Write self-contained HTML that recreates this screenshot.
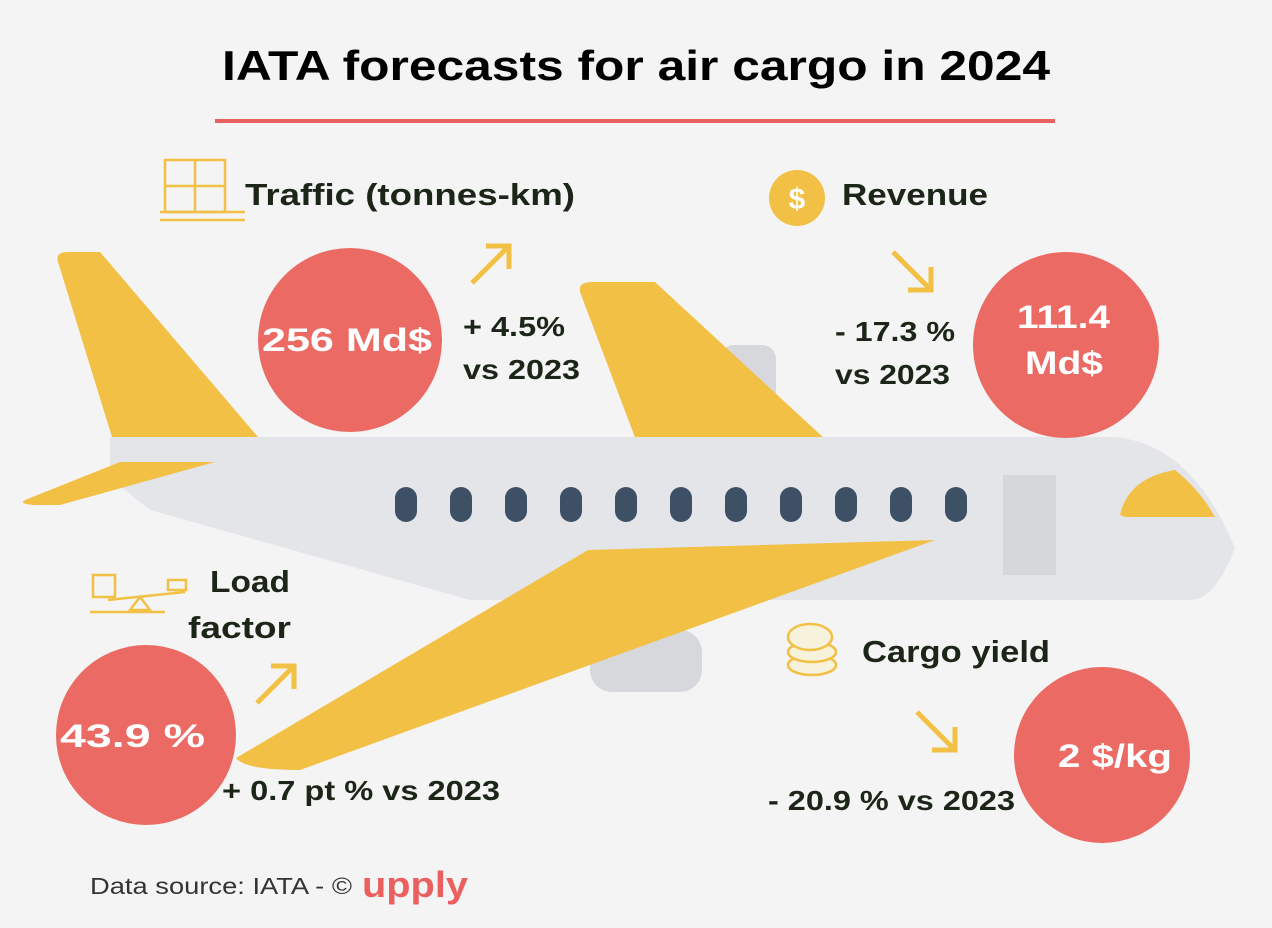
<!DOCTYPE html>
<html><head><meta charset="utf-8"><style>
html,body{margin:0;padding:0;background:#f4f4f4;}
svg{display:block;}
text{font-family:"Liberation Sans",sans-serif;}
</style></head><body>
<svg width="1272" height="928" viewBox="0 0 1272 928">
<rect width="1272" height="928" fill="#f4f4f4"/>
<text x="222" y="80" font-size="42" font-weight="bold" fill="#000" textLength="828" lengthAdjust="spacingAndGlyphs">IATA forecasts for air cargo in 2024</text>
<rect x="215" y="119" width="840" height="4" fill="#ec5f5f"/>

<g>
<rect x="720" y="345" width="56" height="100" rx="14" fill="#d6d8dc"/>
<path d="M58,262 Q55,252 68,252 L100,252 L258,437 L112,437 Z" fill="#f2c045"/>
<path d="M580,292 Q578,282 592,282 L655,282 L826,440 L636,440 Z" fill="#f2c045"/>
<path d="M110,437 L1110,437 Q1190,440 1235,548 Q1215,600 1190,600 L470,600 L150,510 L110,478 Z" fill="#e3e5e9"/>
<rect x="590" y="630" width="112" height="62" rx="22" fill="#d6d8dc"/>
<path d="M25,500 Q18,504 35,505 L60,505 L215,462 L120,462 Z" fill="#f2c045"/>
<path d="M588,550 L935,540 L300,770 Q245,770 236,758 Z" fill="#f2c045"/>
<rect x="1003" y="475" width="53" height="100" fill="#d5d7db"/>
<path d="M1120,515 Q1128,478 1175,470 Q1200,490 1215,517 L1125,517 Z" fill="#f2c045"/>
<g fill="#3e5066">
<rect x="395" y="487" width="22" height="35" rx="11"/><rect x="450" y="487" width="22" height="35" rx="11"/><rect x="505" y="487" width="22" height="35" rx="11"/><rect x="560" y="487" width="22" height="35" rx="11"/><rect x="615" y="487" width="22" height="35" rx="11"/><rect x="670" y="487" width="22" height="35" rx="11"/><rect x="725" y="487" width="22" height="35" rx="11"/><rect x="780" y="487" width="22" height="35" rx="11"/><rect x="835" y="487" width="22" height="35" rx="11"/><rect x="890" y="487" width="22" height="35" rx="11"/><rect x="945" y="487" width="22" height="35" rx="11"/>
</g>
</g>

<g>
<g fill="none" stroke="#f2c045" stroke-width="2.5">
<rect x="165" y="160" width="60" height="52"/><line x1="165" y1="186" x2="225" y2="186"/><line x1="195" y1="160" x2="195" y2="212"/><line x1="160" y1="220" x2="245" y2="220"/><line x1="160" y1="212" x2="245" y2="212"/>
</g>
<text x="245" y="205" font-size="31" font-weight="bold" fill="#1c2618" textLength="330" lengthAdjust="spacingAndGlyphs">Traffic (tonnes-km)</text>
<circle cx="350" cy="340" r="92" fill="#ec6a64"/>
<text x="262" y="351" font-size="32" font-weight="bold" fill="#fff" textLength="170" lengthAdjust="spacingAndGlyphs">256 Md$</text>
<path d="M472,283 L508,247 M486,246 L509,246 L509,269" stroke="#f2c045" stroke-width="5" fill="none"/>
<text x="463" y="336" font-size="28" font-weight="bold" fill="#1c2618" textLength="102" lengthAdjust="spacingAndGlyphs">+ 4.5%</text>
<text x="463" y="379" font-size="28" font-weight="bold" fill="#1c2618" textLength="117" lengthAdjust="spacingAndGlyphs">vs 2023</text>
</g>

<g>
<circle cx="797" cy="198" r="28" fill="#f2c045"/>
<text x="797" y="209" text-anchor="middle" font-size="30" font-weight="bold" fill="#fff">$</text>
<text x="842" y="205" font-size="31" font-weight="bold" fill="#1c2618" textLength="146" lengthAdjust="spacingAndGlyphs">Revenue</text>
<path d="M893,252 L931,290 M931,267 L931,290 L908,290" stroke="#f2c045" stroke-width="5" fill="none"/>
<text x="835" y="341" font-size="28" font-weight="bold" fill="#1c2618" textLength="120" lengthAdjust="spacingAndGlyphs">- 17.3 %</text>
<text x="835" y="384" font-size="28" font-weight="bold" fill="#1c2618" textLength="115" lengthAdjust="spacingAndGlyphs">vs 2023</text>
<circle cx="1066" cy="345" r="93" fill="#ec6a64"/>
<text x="1017" y="328" font-size="32" font-weight="bold" fill="#fff" textLength="93" lengthAdjust="spacingAndGlyphs">111.4</text>
<text x="1025" y="374" font-size="32" font-weight="bold" fill="#fff" textLength="78" lengthAdjust="spacingAndGlyphs">Md$</text>
</g>

<g>
<g fill="none" stroke="#f2c045" stroke-width="2.5">
<rect x="93" y="575" width="22" height="22"/><rect x="168" y="580" width="18" height="10"/><line x1="108" y1="600" x2="185" y2="592"/><path d="M140,597 L130,610 L150,610 Z"/><line x1="90" y1="612" x2="165" y2="612"/>
</g>
<text x="210" y="592" font-size="31" font-weight="bold" fill="#1c2618" textLength="80" lengthAdjust="spacingAndGlyphs">Load</text>
<text x="188" y="638" font-size="31" font-weight="bold" fill="#1c2618" textLength="103" lengthAdjust="spacingAndGlyphs">factor</text>
<path d="M257,703 L293,667 M271,666 L294,666 L294,689" stroke="#f2c045" stroke-width="5" fill="none"/>
<circle cx="146" cy="735" r="90" fill="#ec6a64"/>
<text x="60" y="747" font-size="32" font-weight="bold" fill="#fff" textLength="145" lengthAdjust="spacingAndGlyphs">43.9 %</text>
<text x="222" y="800" font-size="28" font-weight="bold" fill="#1c2618" textLength="278" lengthAdjust="spacingAndGlyphs">+ 0.7 pt % vs 2023</text>
</g>

<g>
<g fill="#f7f2dc" stroke="#f2c045" stroke-width="2.5">
<ellipse cx="812" cy="665" rx="24" ry="10"/><ellipse cx="812" cy="652" rx="24" ry="10"/><ellipse cx="810" cy="637" rx="22" ry="13"/>
</g>
<text x="862" y="662" font-size="31" font-weight="bold" fill="#1c2618" textLength="188" lengthAdjust="spacingAndGlyphs">Cargo yield</text>
<path d="M917,712 L955,750 M955,727 L955,750 L932,750" stroke="#f2c045" stroke-width="5" fill="none"/>
<text x="768" y="810" font-size="28" font-weight="bold" fill="#1c2618" textLength="247" lengthAdjust="spacingAndGlyphs">- 20.9 % vs 2023</text>
<circle cx="1102" cy="755" r="88" fill="#ec6a64"/>
<text x="1058" y="767" font-size="32" font-weight="bold" fill="#fff" textLength="114" lengthAdjust="spacingAndGlyphs">2 $/kg</text>
</g>

<text x="90" y="894" font-size="23" fill="#333" textLength="262" lengthAdjust="spacingAndGlyphs">Data source: IATA - ©</text>
<text x="362" y="897" font-size="36" font-weight="bold" fill="#ec5f5f" textLength="106" lengthAdjust="spacingAndGlyphs">upply</text>
</svg>
</body></html>
